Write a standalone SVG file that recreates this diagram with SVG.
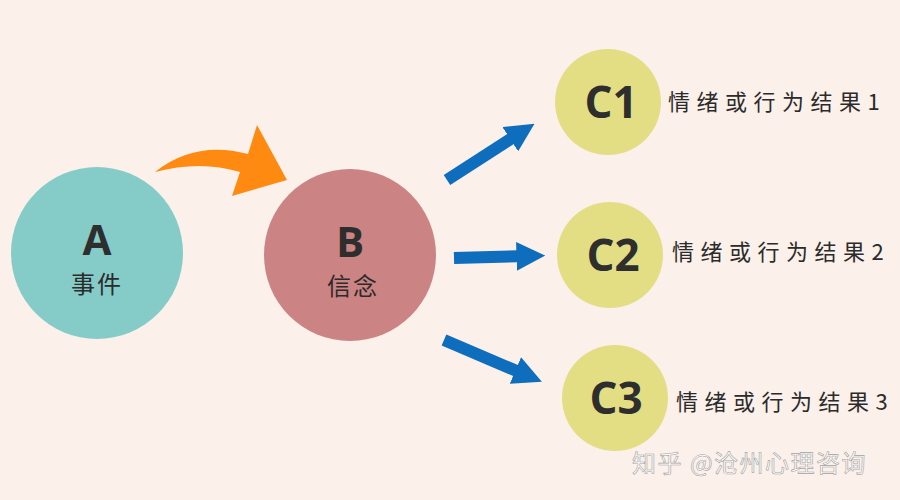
<svg xmlns="http://www.w3.org/2000/svg" width="900" height="500" viewBox="0 0 900 500">
<defs>
<style>
.t{font-family:"Noto Sans CJK SC","Noto Sans",sans-serif;fill:#2b2b2b}
.big{font-family:"Open Sans","Noto Sans",sans-serif;font-weight:bold;fill:#2e2e2e}
.lbl{font-size:22px;letter-spacing:6.5px}
.blue{fill:#0e6dbd}
</style>
<marker id="ah" viewBox="0 0 10 10" refX="4" refY="5" markerWidth="2.4" markerHeight="2.4" orient="auto" markerUnits="strokeWidth"><path d="M0,0L10,5L0,10z" class="blue"/></marker>
</defs>
<rect width="900" height="500" fill="#fbf0ea"/>
<g id="A"><circle cx="97" cy="253" r="86" fill="#85ccc9"/><text class="big" x="97" y="255" font-size="42" text-anchor="middle">A</text><text class="t" x="97" y="293" font-size="24" text-anchor="middle" letter-spacing="2">事件</text></g>
<g id="B"><circle cx="350" cy="255" r="86" fill="#cc8383"/><text class="big" x="350" y="257" font-size="42" text-anchor="middle">B</text><text class="t" x="353" y="295" font-size="24" text-anchor="middle" letter-spacing="2">信念</text></g>
<g id="C1"><circle cx="608" cy="102" r="53" fill="#e3de84"/><text class="big" x="611" y="118" font-size="44" text-anchor="middle">C1</text><text class="t lbl" x="668" y="110">情绪或行为结果1</text></g>
<g id="C2"><circle cx="610" cy="255" r="53" fill="#e3de84"/><text class="big" x="613" y="271" font-size="44" text-anchor="middle">C2</text><text class="t lbl" x="672" y="260">情绪或行为结果2</text></g>
<g id="C3"><circle cx="615" cy="398" r="53" fill="#e3de84"/><text class="big" x="616" y="414" font-size="44" text-anchor="middle">C3</text><text class="t lbl" x="676" y="410">情绪或行为结果3</text></g>
<g id="connectors">
<path d="M155,172 Q195,140 248,154 L257,125 L287,180 L232,196 L240,172 Q200,160 155,172Z" fill="#ff8a12"/>
<g stroke="#0e6dbd" stroke-width="12" fill="none">
<line x1="447" y1="180" x2="520" y2="133" marker-end="url(#ah)"/>
<line x1="454" y1="258" x2="528" y2="256" marker-end="url(#ah)"/>
<line x1="444" y1="340" x2="526" y2="375" marker-end="url(#ah)"/>
</g>
</g>
<text x="632" y="472" font-size="24" letter-spacing="1.5" font-family="Noto Sans CJK SC,sans-serif" fill="#ffffff" stroke="#999" stroke-width="0.6" opacity="0.9">知乎 @沧州心理咨询</text>
</svg>
